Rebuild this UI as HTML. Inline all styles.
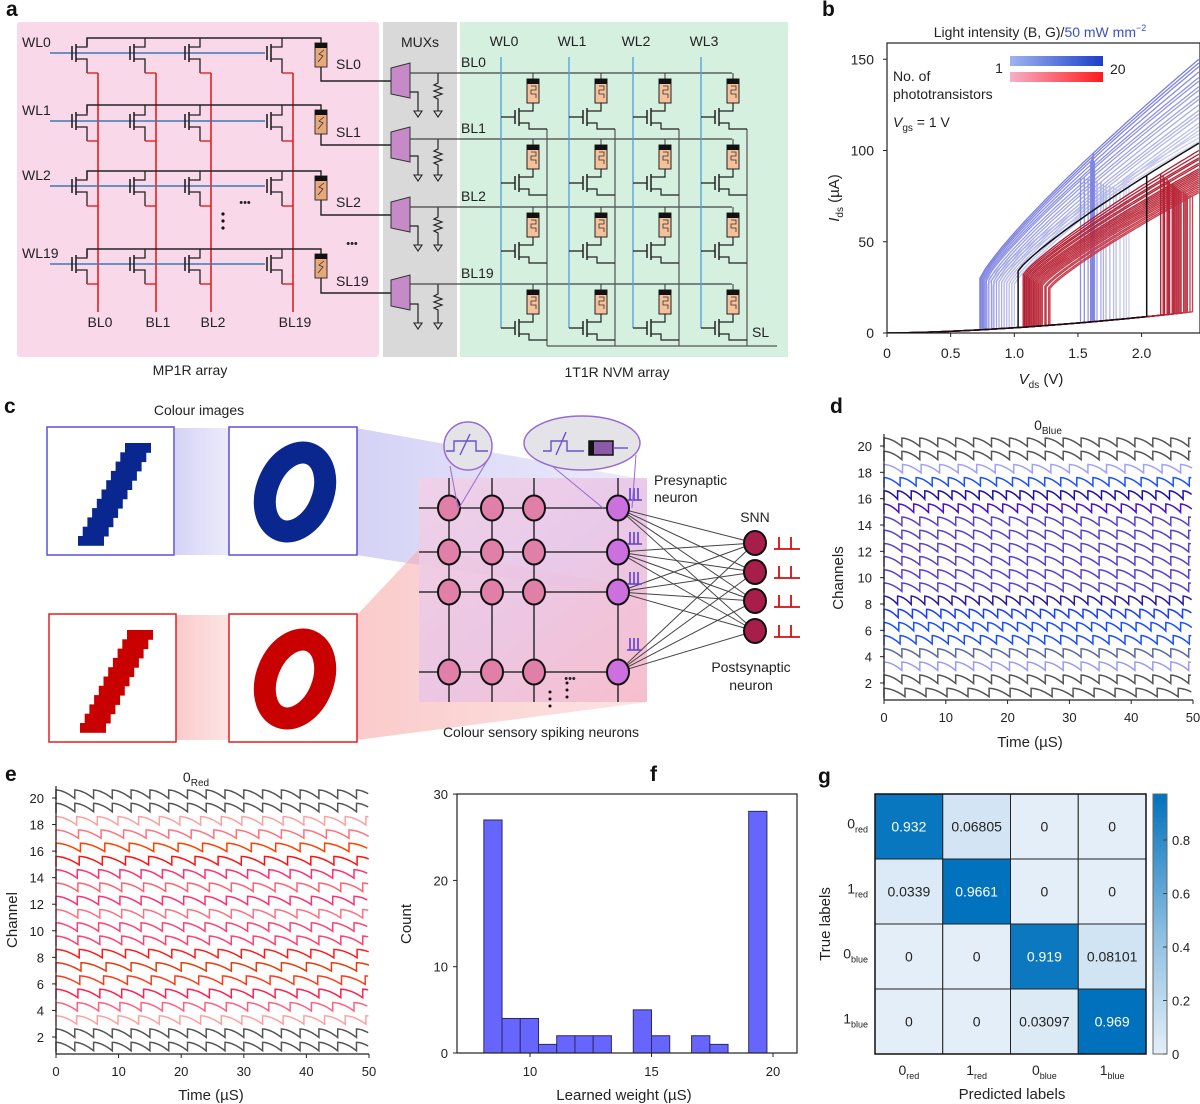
<!DOCTYPE html>
<html><head><meta charset="utf-8"><style>
html,body{margin:0;padding:0;background:#fff;}
svg{display:block;font-family:"Liberation Sans",sans-serif;}
</style></head><body>
<svg id="fig" width="1200" height="1104" viewBox="0 0 1200 1104" xmlns="http://www.w3.org/2000/svg">
<defs>
<linearGradient id="gBlueBar" x1="0" x2="1"><stop offset="0" stop-color="#9fb3f0"/><stop offset="1" stop-color="#1a3fc8"/></linearGradient>
<linearGradient id="gRedBar" x1="0" x2="1"><stop offset="0" stop-color="#f5b0c8"/><stop offset="1" stop-color="#ff1a1a"/></linearGradient>
<linearGradient id="gCbar" x1="0" y1="1" x2="0" y2="0"><stop offset="0" stop-color="#e3eef8"/><stop offset="0.45" stop-color="#8fc0e2"/><stop offset="1" stop-color="#0072bd"/></linearGradient>
<linearGradient id="gGrid" x1="0" y1="0" x2="1" y2="1"><stop offset="0" stop-color="#f3d0e6"/><stop offset="0.5" stop-color="#e9c4e6"/><stop offset="1" stop-color="#f6b8c8"/></linearGradient>
<linearGradient id="gBlueProj" x1="0" x2="1"><stop offset="0" stop-color="#b8b4f0" stop-opacity="0.6"/><stop offset="1" stop-color="#c8c4f4" stop-opacity="0.35"/></linearGradient>
<linearGradient id="gRedProj" x1="0" x2="1"><stop offset="0" stop-color="#f8a8a8" stop-opacity="0.6"/><stop offset="1" stop-color="#f8b0b0" stop-opacity="0.35"/></linearGradient>
</defs>
</svg>
<script>
const svg=document.getElementById('fig');
const NS='http://www.w3.org/2000/svg';
function mk(tag,attrs,parent){const e=document.createElementNS(NS,tag);for(const k in attrs)e.setAttribute(k,attrs[k]);(parent||svg).appendChild(e);return e;}
function tx(x,y,s,size,anchor,parent,extra){const e=mk('text',Object.assign({x:x,y:y,'font-size':size,'text-anchor':anchor||'start',fill:'#222'},extra||{}),parent);e.textContent=s;return e;}
function grp(parent){return mk('g',{},parent);}

/* ---------------- DATA ---------------- */
// panel b
const blueVDown=[0.73,0.74,0.75,0.76,0.77,0.78,0.80,0.82,0.84,0.86,0.88,0.90,0.92,0.94,0.96,0.98,1.00,0.76,0.79,0.83];
const blueVUp=[1.62,1.61,1.60,1.63,1.52,1.55,1.58,1.60,1.62,1.65,1.68,1.70,1.72,1.75,1.78,1.80,1.83,1.86,1.88,1.90];
const blueITop=[150,148,146,143,140,138,135,133,130,128,125,122,120,118,115,113,111,109,107,105];
const redVDown=[1.07,1.08,1.09,1.10,1.11,1.12,1.13,1.14,1.15,1.16,1.17,1.18,1.19,1.20,1.21,1.22,1.24,1.25,1.27,1.28];
const redVUp=[2.15,2.17,2.18,2.20,2.21,2.22,2.24,2.25,2.26,2.27,2.28,2.29,2.30,2.31,2.33,2.34,2.35,2.36,2.38,2.40];
const redITop=[100,98,96,95,93,92,90,89,88,87,86,85,84,83,82,81,80,79,78,77];
const blackVDown=[1.03], blackVUp=[2.04], blackITop=[104];
const bXTicks=[0,0.5,1.0,1.5,2.0], bXTickLabels=['0','0.5','1.0','1.5','2.0'];
const bYTicks=[0,50,100,150];
// panel d
const dPeriods=[3.4,2.9,2.9,2.9,2.6,2.4,2.3,2.2,2.9,2.9,2.9,2.9,2.9,2.9,2.4,2.2,2.6,3.0,2.9,2.9];
const dColors=['#555','#555','#9a9af6','#5a6a9a','#1a4dff','#1a4dff','#1a3cff','#2a1aa0','#5a3fd0','#5a3fd0','#5b3fc8','#5b3fc8','#5b3fc8','#5b3fc8','#4a10d0','#2010a0','#1a50ff','#a0a0f8','#555','#555'];
// panel e
const ePeriods=[3.0,3.0,3.3,3.4,3.5,3.8,4.0,3.7,3.5,3.4,3.5,3.4,3.5,3.4,3.7,3.9,3.6,3.3,3.0,3.0];
const eColors=['#555','#555','#ffa0a0','#ff6080','#ff2050','#ff3a1a','#e04010','#ff1a1a','#ff4070','#ff4070','#ff7080','#ff3070','#ff6070','#ff3070','#ff1010','#ff4000','#ff7080','#ffa0a0','#555','#555'];
const chanTicks=[2,4,6,8,10,12,14,16,18,20];
const timeTicks=[0,10,20,30,40,50];
// panel f
const fBinLeft=[8.1,8.85,9.6,10.35,11.1,11.85,12.6,14.25,15.0,16.65,17.4,19.0];
const fCounts=[27,4,4,1,2,2,2,5,2,2,1,28];
const fBinWidth=0.75;
const fXTicks=[10,15,20], fYTicks=[0,10,20,30];
// panel g
const gLabels=[['0','red'],['1','red'],['0','blue'],['1','blue']];
const gRow0=[0.932,0.06805,0,0];
const gRow1=[0.0339,0.9661,0,0];
const gRow2=[0,0,0.919,0.08101];
const gRow3=[0,0,0.03097,0.969];
const gText0=['0.932','0.06805','0','0'],gText1=['0.0339','0.9661','0','0'],gText2=['0','0','0.919','0.08101'],gText3=['0','0','0.03097','0.969'];
const gCbTicks=[0,0.2,0.4,0.6,0.8];

/* ---------------- PANEL LABELS ---------------- */
[['a',6,16],['b',822,16],['c',4,413],['d',830,413],['e',5,781],['f',650,781],['g',818,783]].forEach(p=>{
  const t=tx(p[1],p[2],p[0],21,'start',svg,{'font-weight':'bold',fill:'#111'});
  
  
});

/* ---------------- PANEL A ---------------- */
const pa=grp();  
let r=mk('rect',{x:17,y:22,width:362,height:335,rx:3,fill:'#f9d9e9'},pa);  
r=mk('rect',{x:383,y:22,width:74,height:335,fill:'#d9d9d9'},pa);  
r=mk('rect',{x:460,y:22,width:328,height:335,fill:'#d6f0e0'},pa);  
tx(190,375,'MP1R array',14,'middle',pa);
tx(617,377,'1T1R NVM array',14,'middle',pa);
tx(420,47,'MUXs',14,'middle',pa);
const rowsA=[{top:38,wl:53,lab:'WL0',sl:'SL0',sly:69,mux:81,bl:73,blab:'BL0'},{top:105,wl:121,lab:'WL1',sl:'SL1',sly:137,mux:145,bl:139,blab:'BL1'},{top:171,wl:186,lab:'WL2',sl:'SL2',sly:207,mux:215,bl:207,blab:'BL2'},{top:249,wl:264,lab:'WL19',sl:'SL19',sly:286,mux:293,bl:284,blab:'BL19'}];
const gx=[72,130,185,267];
const redx=gx.map(g=>g+26);
redx.forEach((x,i)=>{mk('line',{x1:x,y1:73,x2:x,y2:312,stroke:'#e02020','stroke-width':1.6},pa); tx(x+2,327,['BL0','BL1','BL2','BL19'][i],14,'middle',pa);});
rowsA.forEach(R=>{
  tx(22,R.wl-6,R.lab,14,'start',pa);
  mk('line',{x1:50,y1:R.wl,x2:gx[3]-2,y2:R.wl,stroke:'#3a78b8','stroke-width':1.4},pa);
  mk('polyline',{points:`${gx[0]+15},${R.top+8} ${gx[0]+15},${R.top} 321,${R.top} 321,${R.top+5}`,fill:'none',stroke:'#222','stroke-width':1.4},pa);
  gx.forEach((g,j)=>{
    mk('line',{x1:g,y1:R.wl-7,x2:g,y2:R.wl+7,stroke:'#222','stroke-width':1.6},pa);
    mk('line',{x1:g+4,y1:R.wl-9,x2:g+4,y2:R.wl+9,stroke:'#222','stroke-width':1.6},pa);
    mk('polyline',{points:`${g+4},${R.wl-6} ${g+15},${R.wl-6} ${g+15},${R.top}`,fill:'none',stroke:'#222','stroke-width':1.3},pa);
    mk('polyline',{points:`${g+4},${R.wl+6} ${g+15},${R.wl+6} ${g+15},${R.wl+20}`,fill:'none',stroke:'#222','stroke-width':1.3},pa);
    mk('line',{x1:g+15,y1:R.wl+20,x2:redx[j],y2:R.wl+20,stroke:'#e02020','stroke-width':1.4},pa);
  });
  mk('rect',{x:315,y:R.top+5,width:12,height:24,fill:'#e8a87a',stroke:'#333','stroke-width':1},pa);
  mk('rect',{x:315,y:R.top+5,width:12,height:5,fill:'#111'},pa);
  mk('polyline',{points:`318,${R.top+24} 323,${R.top+18} 319,${R.top+16} 324,${R.top+12}`,fill:'none',stroke:'#333','stroke-width':0.8},pa);
  mk('polyline',{points:`321,${R.top+29} 321,${R.mux} 391,${R.mux}`,fill:'none',stroke:'#222','stroke-width':1.4},pa);
  tx(336,R.sly,R.sl,14,'start',pa);
  const m=mk('polygon',{points:`391,${R.mux-13} 410,${R.mux-18} 410,${R.mux+17} 391,${R.mux+13}`,fill:'#c68ac8',stroke:'#333','stroke-width':1},pa);
   
  mk('polyline',{points:`410,${R.mux+11} 418,${R.mux+11} 418,${R.mux+30}`,fill:'none',stroke:'#222','stroke-width':1.2},pa);
  mk('polygon',{points:`414,${R.mux+30} 422,${R.mux+30} 418,${R.mux+36}`,fill:'none',stroke:'#222','stroke-width':1.1},pa);
  mk('polyline',{points:`438,${R.bl} 438,${R.bl+10} 434,${R.bl+12} 442,${R.bl+15} 434,${R.bl+18} 442,${R.bl+21} 434,${R.bl+24} 438,${R.bl+26} 438,${R.mux+30}`,fill:'none',stroke:'#222','stroke-width':1.2},pa);
  mk('polygon',{points:`434,${R.mux+30} 442,${R.mux+30} 438,${R.mux+36}`,fill:'none',stroke:'#222','stroke-width':1.1},pa);
  mk('line',{x1:410,y1:R.bl,x2:732,y2:R.bl,stroke:'#444','stroke-width':1.3},pa);
  tx(461,R.bl-6,R.blab,14,'start',pa);
});
const nvmWL=[501,569,633,701];
nvmWL.forEach((x,i)=>{mk('line',{x1:x,y1:57,x2:x,y2:328,stroke:'#4aa0dc','stroke-width':1.3},pa); tx(x+3,46,'WL'+i,14,'middle',pa);});
nvmWL.forEach(w=>{const rx=w+32; mk('line',{x1:rx+14,y1:129,x2:rx+14,y2:346,stroke:'#555','stroke-width':1.2},pa);});
mk('line',{x1:547,y1:346,x2:777,y2:346,stroke:'#555','stroke-width':1.2},pa);
tx(752,337,'SL',14,'start',pa);
rowsA.forEach(R=>{
  nvmWL.forEach(w=>{
    const rx=w+32,g=R.bl+44;
    mk('line',{x1:rx,y1:R.bl,x2:rx,y2:R.bl+6},pa).setAttribute('stroke','#333');
    mk('rect',{x:rx-6,y:R.bl+6,width:12,height:24,fill:'#f5c09a',stroke:'#222','stroke-width':1},pa);
    mk('rect',{x:rx-6,y:R.bl+6,width:12,height:5,fill:'#111'},pa);
    mk('polyline',{points:`${rx-2},${R.bl+13} ${rx+3},${R.bl+13} ${rx+3},${R.bl+17} ${rx-2},${R.bl+17} ${rx-2},${R.bl+21} ${rx+3},${R.bl+21} ${rx+3},${R.bl+25}`,fill:'none',stroke:'#333','stroke-width':0.8},pa);
    mk('polyline',{points:`${rx},${R.bl+30} ${rx},${g-6} ${rx-14},${g-6}`,fill:'none',stroke:'#222','stroke-width':1.2},pa);
    mk('line',{x1:w,y1:g,x2:rx-18,y2:g,stroke:'#222','stroke-width':1.3},pa);
    mk('line',{x1:rx-18,y1:g-7,x2:rx-18,y2:g+7,stroke:'#222','stroke-width':1.5},pa);
    mk('line',{x1:rx-14,y1:g-9,x2:rx-14,y2:g+9,stroke:'#222','stroke-width':1.5},pa);
    mk('polyline',{points:`${rx-14},${g+6} ${rx-4},${g+6} ${rx-4},${g+12} ${rx+14},${g+12}`,fill:'none',stroke:'#222','stroke-width':1.2},pa);
  });
});
tx(245,206,'•••',11,'middle',pa); tx(352,247,'•••',11,'middle',pa);
[214,221,228].forEach(y=>mk('circle',{cx:223,cy:y,r:1.6,fill:'#111'},pa));

/* ---------------- PANEL B ---------------- */
const pb=grp();  
const bx=v=>887+v*127.3, by=i=>333-i*1.825;
mk('rect',{x:887,y:43,width:313,height:290,fill:'none',stroke:'#222','stroke-width':1.2},pb);
function lerpC(a,b,t){const p=s=>[1,3,5].map(i=>parseInt(s.substr(i,2),16));const A=p(a),B=p(b);return 'rgb('+A.map((v,i)=>Math.round(v+(B[i]-v)*t)).join(',')+')';}
function ivPath(vd,vu,it,idown){
  let pts=[];const n=40;
  for(let k=0;k<=n;k++){const v=vu*k/n;pts.push([v,12*Math.pow(v/2.45,1.6)]);}
  const iu=idown+(it-idown)*Math.pow((vu-vd)/(2.45-vd),0.85);
  pts.push([vu,iu]);
  for(let k=0;k<=n;k++){const v=vd+(2.45-vd)*k/n;pts.push([v,idown+(it-idown)*Math.pow((v-vd)/(2.45-vd),0.85)]);}
  let d='M'+pts.slice(0,n+2).map(p=>bx(p[0]).toFixed(1)+','+by(p[1]).toFixed(1)).join(' L');
  d+=' M'+bx(vd).toFixed(1)+','+by(12*Math.pow(vd/2.45,1.6)).toFixed(1)+' L'+pts.slice(n+2).map(p=>bx(p[0]).toFixed(1)+','+by(p[1]).toFixed(1)).join(' L');
  return d;
}
const clipB=mk('clipPath',{id:'clipB'},pb); mk('rect',{x:887,y:43,width:313,height:290},clipB);
const curvesB=grp(pb); curvesB.setAttribute('clip-path','url(#clipB)');
for(let i=blueVDown.length-1;i>=0;i--){
  const p=mk('path',{d:ivPath(blueVDown[i],blueVUp[i],blueITop[i],30-i*0.2),fill:'none',stroke:lerpC('#7a7ee0','#cfd2ee',i/19),'stroke-width':1.3},curvesB);
   
}
for(let i=redVDown.length-1;i>=0;i--){
  const p=mk('path',{d:ivPath(redVDown[i],redVUp[i],redITop[i],32-i*0.4),fill:'none',stroke:lerpC('#b01c30','#c8404e',i/19),'stroke-width':1.3},curvesB);
   
}
blackVDown.forEach((v,i)=>{const p=mk('path',{d:ivPath(v,blackVUp[i],blackITop[i],34),fill:'none',stroke:'#111','stroke-width':1.5},curvesB);
   });
bXTicks.forEach((v,i)=>{mk('line',{x1:bx(v),y1:333,x2:bx(v),y2:337,stroke:'#222'},pb); tx(bx(v),358,bXTickLabels[i],14,'middle',pb);});
bYTicks.forEach(v=>{mk('line',{x1:883,y1:by(v),x2:887,y2:by(v),stroke:'#222'},pb); tx(874,by(v)+5,String(v),14,'end',pb);});
let t=tx(1040,37,'Light intensity (B, G)/',14,'middle',pb);
t.innerHTML='Light intensity (B, G)/<tspan fill="#3a50c8">50 mW mm</tspan><tspan fill="#3a50c8" font-size="9" dy="-6">−2</tspan>';
tx(893,81,'No. of',14,'start',pb); tx(893,99,'phototransistors',14,'start',pb);
t=tx(893,127,'',14,'start',pb); t.innerHTML='<tspan font-style="italic">V</tspan><tspan font-size="10" dy="4">gs</tspan><tspan dy="-4"> = 1 V</tspan>';
tx(999,73,'1',14,'middle',pb); tx(1110,74,'20',14,'start',pb);
r=mk('rect',{x:1010,y:56,width:93,height:10,fill:'url(#gBlueBar)'},pb);  
r=mk('rect',{x:1010,y:72,width:93,height:10,fill:'url(#gRedBar)'},pb);  
t=tx(0,0,'',15,'middle',pb,{transform:'translate(839,198) rotate(-90)'}); t.innerHTML='<tspan font-style="italic">I</tspan><tspan font-size="10" dy="4">ds</tspan><tspan dy="-4"> (µA)</tspan>';
t=tx(1041,384,'',15,'middle',pb); t.innerHTML='<tspan font-style="italic">V</tspan><tspan font-size="10" dy="4">ds</tspan><tspan dy="-4"> (V)</tspan>';

/* ---------------- SPIKE TRACE PANELS (d, e) ---------------- */
function spikePanel(parent,periods,colors,x0,x1,y2,y20,nameTag){
  const sx=v=>x0+(x1-x0)*v/50, cy=c=>y2-(c-2)*(y2-y20)/18;
  periods.forEach((p,i)=>{
    const ch=i+1, base=cy(ch)+2, A=(y2-y20)/18*0.75;
    let pts=[],tt=0; pts.push([sx(0),base]);
    while(tt<50){
      const steps=8;
      for(let k=0;k<=steps;k++){const tk=tt+p*k/steps; if(tk>50)break; const f=1-Math.pow(k/steps,1.8)*0.85; pts.push([sx(tk),base-A*f]);}
      tt+=p;
    }
    const pl=mk('polyline',{points:pts.map(q=>q[0].toFixed(1)+','+q[1].toFixed(1)).join(' '),fill:'none',stroke:colors[i],'stroke-width':1.5},parent);
     
  });
  mk('line',{x1:x0,y1:y20-12,x2:x0,y2:y2+17,stroke:'#222','stroke-width':1.2},parent);
  mk('line',{x1:x0,y1:y2+17,x2:x1,y2:y2+17,stroke:'#222','stroke-width':1.2},parent);
  chanTicks.forEach(c=>{mk('line',{x1:x0-4,y1:cy(c),x2:x0,y2:cy(c),stroke:'#222'},parent); tx(x0-12,cy(c)+5,String(c),13,'end',parent);});
  timeTicks.forEach(v=>{mk('line',{x1:sx(v),y1:y2+17,x2:sx(v),y2:y2+21,stroke:'#222'},parent); tx(sx(v),y2+39,String(v),13,'middle',parent);});
}
const pd=grp();  
spikePanel(pd,dPeriods,dColors,884,1193,683,446,'blue');
t=tx(1048,430,'',14,'middle',pd); t.innerHTML='0<tspan font-size="10" dy="4">Blue</tspan>';
tx(1030,747,'Time (µS)',15,'middle',pd);
tx(0,0,'Channels',15,'middle',pd,{transform:'translate(843,578) rotate(-90)'});
const pe=grp();  
spikePanel(pe,ePeriods,eColors,56,369,1037,798,'red');
t=tx(196,782,'',14,'middle',pe); t.innerHTML='0<tspan font-size="10" dy="4">Red</tspan>';
tx(211,1100,'Time (µS)',15,'middle',pe);
tx(0,0,'Channel',15,'middle',pe,{transform:'translate(17,920) rotate(-90)'});

/* ---------------- PANEL F ---------------- */
const pf=grp();  
const fx=v=>530+(v-10)*24.3, fy=c=>1053-c*8.63;
fBinLeft.forEach((b,i)=>{
  const rr=mk('rect',{x:fx(b),y:fy(fCounts[i]),width:fBinWidth*24.3,height:1053-fy(fCounts[i]),fill:'#6666ff',stroke:'#2a2a60','stroke-width':1},pf);
   
});
mk('rect',{x:457,y:794,width:340,height:259,fill:'none',stroke:'#222','stroke-width':1.2},pf);
fXTicks.forEach(v=>{mk('line',{x1:fx(v),y1:1053,x2:fx(v),y2:1057,stroke:'#222'},pf); tx(fx(v),1076,String(v),13,'middle',pf);});
fYTicks.forEach(v=>{mk('line',{x1:453,y1:fy(v),x2:457,y2:fy(v),stroke:'#222'},pf); tx(448,fy(v)+5,String(v),13,'end',pf);});
tx(624,1100,'Learned weight (µS)',15,'middle',pf);
tx(0,0,'Count',15,'middle',pf,{transform:'translate(411,924) rotate(-90)'});

/* ---------------- PANEL G ---------------- */
const pg=grp();  
const gRows=[gRow0,gRow1,gRow2,gRow3], gTexts=[gText0,gText1,gText2,gText3];
const cw=(1146-875)/4, chh=(1054-794)/4;
gRows.forEach((row,ri)=>row.forEach((v,ci)=>{
  const c=mk('rect',{x:875+ci*cw,y:794+ri*chh,width:cw,height:chh,fill:lerpC('#e3eef8','#0072bd',Math.min(1,v/0.969)),stroke:'#222','stroke-width':1},pg);
   
  tx(875+ci*cw+cw/2,794+ri*chh+chh/2+5,gTexts[ri][ci],14,'middle',pg,{fill:v>0.5?'#fff':'#222'});
}));
mk('rect',{x:875,y:794,width:271,height:260,fill:'none',stroke:'#111','stroke-width':1.5},pg);
r=mk('rect',{x:1153,y:794,width:14,height:260,fill:'url(#gCbar)',stroke:'#666','stroke-width':1},pg);  
gCbTicks.forEach(v=>{const y=1054-v*267.5; mk('line',{x1:1163,y1:y,x2:1167,y2:y,stroke:'#444'},pg); tx(1172,y+5,String(v),13,'start',pg);});
gLabels.forEach((l,i)=>{
  let a=tx(868,794+i*chh+chh/2+2,'',14,'end',pg); a.innerHTML=l[0]+'<tspan font-size="9" dy="4">'+l[1]+'</tspan>';
  a=tx(875+i*cw+cw/2,1075,'',14,'middle',pg); a.innerHTML=l[0]+'<tspan font-size="9" dy="4">'+l[1]+'</tspan>';
});
tx(1012,1099,'Predicted labels',15,'middle',pg);
tx(0,0,'True labels',15,'middle',pg,{transform:'translate(830,924) rotate(-90)'});

/* ---------------- PANEL C ---------------- */
const pc=grp();  
tx(199,415,'Colour images',14,'middle',pc);
mk('polygon',{points:'175,428 229,428 229,555 175,555',fill:'url(#gBlueProj)'},pc);
mk('polygon',{points:'356,428 647,480 647,600 356,555',fill:'url(#gBlueProj)'},pc);
mk('polygon',{points:'176,615 229,615 229,740 176,740',fill:'url(#gRedProj)'},pc);
mk('polygon',{points:'357,615 420,548 647,590 647,702 357,740',fill:'url(#gRedProj)'},pc);
r=mk('rect',{x:419,y:478,width:228,height:224,fill:'url(#gGrid)',opacity:0.85},pc);  
function digitOne(bx0,by0,col,parent){
  for(let i=0;i<11;i++){const x=bx0+78-i*4.7,y=by0+16+i*9.3;mk('rect',{x:x,y:y,width:26,height:9.8,fill:col},parent);}
}
function digitZero(cx,cy,col,parent){
  mk('ellipse',{cx:cx,cy:cy,rx:28,ry:41,fill:'none',stroke:col,'stroke-width':22,transform:`rotate(22 ${cx} ${cy})`},parent);
}
[[47,427,'#5a50d8','#0a2790','blue'],[49,614,'#e02020','#c80000','red']].forEach(s=>{
  const b1=mk('rect',{x:s[0],y:s[1],width:127,height:128,fill:'#fff',stroke:s[2],'stroke-width':1.5},pc);
   
  digitOne(s[0],s[1],s[3],pc);
  const b2=mk('rect',{x:229,y:s[1],width:128,height:128,fill:'#fff',stroke:s[2],'stroke-width':1.5},pc);
   
  digitZero(295,s[1]+65,s[3],pc);
});
const colsC=[449,492,534,618], rowsC=[508,552,592,672], post=[543,572,601,631];
colsC.forEach(x=>mk('line',{x1:x,y1:478,x2:x,y2:702,stroke:'#222','stroke-width':1.4},pc));
rowsC.forEach(y=>mk('line',{x1:419,y1:y,x2:618,y2:y,stroke:'#333','stroke-width':1.4},pc));
rowsC.forEach(y=>post.forEach(py=>mk('line',{x1:618,y1:y,x2:755,y2:py,stroke:'#444','stroke-width':1},pc)));
rowsC.forEach(y=>colsC.forEach((x,j)=>{
  const n=mk('ellipse',{cx:x,cy:y,rx:11,ry:12.5,fill:j===3?'#cc70e0':'#e080a8',stroke:'#111','stroke-width':2},pc);
   
}));
post.forEach(y=>{
  const n=mk('ellipse',{cx:755,cy:y,rx:11,ry:12,fill:'#a81e4a',stroke:'#111','stroke-width':2},pc);
   
  mk('path',{d:`M774,${y+6} H800 M779,${y+6} V${y-6} M791,${y+6} V${y-6}`,fill:'none',stroke:'#d01010','stroke-width':1.8},pc);
});
rowsC.forEach((y,i)=>{const yy=i===3?y-22:y-8; mk('path',{d:`M627,${yy} H642 M630,${yy} V${yy-12} M634,${yy} V${yy-12} M638,${yy} V${yy-12}`,fill:'none',stroke:'#6040d0','stroke-width':1.6},pc);});
tx(570,682,'•••',11,'middle',pc);
[692,699,706].forEach(y=>mk('circle',{cx:550,cy:y,r:1.5,fill:'#111'},pc));
[718,725,732].forEach(y=>mk('circle',{cx:567,cy:y-70+35,r:1.5,fill:'#111'},pc));
mk('ellipse',{cx:468,cy:446,rx:24,ry:24,fill:'#e4e4e8',stroke:'#9a6ad0','stroke-width':1.5},pc);
mk('ellipse',{cx:582,cy:443,rx:58,ry:27,fill:'#e4e4e8',stroke:'#9a6ad0','stroke-width':1.5},pc);
mk('line',{x1:450,y1:466,x2:458,y2:508,stroke:'#9a6ad0','stroke-width':1},pc);
mk('line',{x1:490,y1:456,x2:459,y2:508,stroke:'#9a6ad0','stroke-width':1},pc);
mk('line',{x1:552,y1:466,x2:603,y2:508,stroke:'#9a6ad0','stroke-width':1},pc);
mk('line',{x1:636,y1:455,x2:632,y2:508,stroke:'#9a6ad0','stroke-width':1},pc);
mk('path',{d:'M446,451 H454 V441 H476 V451 H488 M460,455 L470,434',fill:'none',stroke:'#6a50d0','stroke-width':1.4},pc);
mk('path',{d:'M543,451 H551 V441 H567 V451 H584 M556,455 L566,432',fill:'none',stroke:'#6a50d0','stroke-width':1.4},pc);
mk('rect',{x:589,y:441,width:24,height:14,fill:'#8a5aa8',stroke:'#111','stroke-width':1.5},pc);
mk('rect',{x:589,y:441,width:5,height:14,fill:'#111'},pc);
mk('line',{x1:613,y1:448,x2:628,y2:448,stroke:'#6a50d0','stroke-width':1.4},pc);
tx(654,485,'Presynaptic',14,'start',pc); tx(654,502,'neuron',14,'start',pc);
tx(755,522,'SNN',14,'middle',pc);
tx(751,672,'Postsynaptic',14,'middle',pc); tx(751,690,'neuron',14,'middle',pc);
tx(541,737,'Colour sensory spiking neurons',14,'middle',pc);
</script>
</body></html>
